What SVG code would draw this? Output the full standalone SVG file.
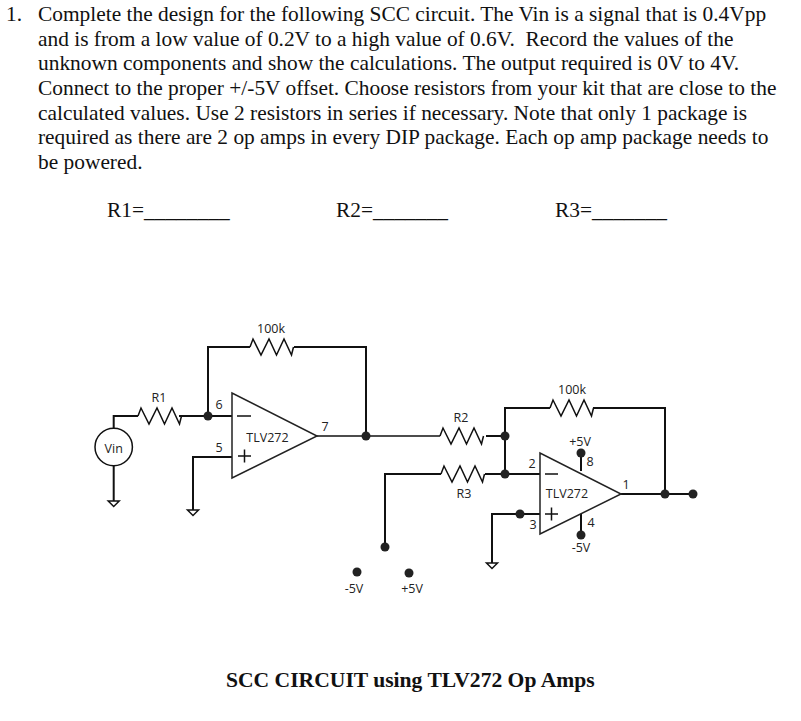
<svg xmlns="http://www.w3.org/2000/svg" width="801" height="721" viewBox="0 0 801 721">
<style>
.p{font-family:"Liberation Serif",serif;font-size:21.4px;fill:#111;white-space:pre}
.l{font-family:"Open Sans","Noto Sans",sans-serif;font-size:12.5px;fill:#222;text-anchor:middle}
.w{fill:none;stroke:#111;stroke-width:2}
.o{fill:#fff;stroke:#222;stroke-width:1.5}
.g{fill:#fff;stroke:#111;stroke-width:1.5}
.s{fill:none;stroke:#111;stroke-width:1.5}
.d{fill:#222}
</style>
<defs>
<path id="res" d="M0 0l3-8 8 16 8-16 7.500 16 7.500-16 7.500 16 2-8" class="s"/>
<path id="gnd" d="M-5.500 0h11l-5.500 5.500z" class="g"/>
</defs>
<g id="question">
<text class="p" x="6" y="21">1.</text>
<text class="p" x="38" y="21">Complete the design for the following SCC circuit. The Vin is a signal that is 0.4Vpp</text>
<text class="p" x="38" y="45.500">and is from a low value of 0.2V to a high value of 0.6V.  Record the values of the</text>
<text class="p" x="38" y="70">unknown components and show the calculations. The output required is 0V to 4V.</text>
<text class="p" x="38" y="95">Connect to the proper +/-5V offset. Choose resistors from your kit that are close to the</text>
<text class="p" x="38" y="119.500">calculated values. Use 2 resistors in series if necessary. Note that only 1 package is</text>
<text class="p" x="38" y="144">required as there are 2 op amps in every DIP package. Each op amp package needs to</text>
<text class="p" x="38" y="168.500">be powered.</text>
<text class="p" x="107" y="217">R1=________</text>
<text class="p" x="336" y="217">R2=_______</text>
<text class="p" x="555" y="217">R3=_______</text>
<text class="p" x="226" y="687" style="font-weight:bold;font-size:21.6px">SCC CIRCUIT using TLV272 Op Amps</text>
</g>
<g id="connectors">
<path class="w" d="M113.700 428V416H138M179 416H232M208 416V347H250M294 347H366V436M232 457H193V510"/>
<path class="s" d="M317 436H440"/>
<path class="w" d="M113.700 466V501"/>
<path class="w" d="M486 436H505V474M441 474H385V547M485 474H540M505 436V408H550M593 408H665V494M621 494H693M540 514H492V563"/>
<path class="w" d="M581 453V471M581 535V513"/>
</g>
<g id="vin"><circle class="g" cx="113.700" cy="447" r="18.700"/><text class="l" x="113.700" y="452.500">Vin</text><use href="#gnd" x="113.700" y="501"/></g>
<g id="gnd-5"><use href="#gnd" x="193" y="510"/></g>
<g id="gnd-3"><use href="#gnd" x="492" y="563"/></g>
<g id="r1"><use href="#res" x="138" y="416"/><text class="l" x="159" y="402">R1</text></g>
<g id="rf1"><use href="#res" x="250" y="347"/><text class="l" x="271" y="333">100k</text></g>
<g id="r2"><use href="#res" x="440" y="436"/><text class="l" x="461" y="422">R2</text></g>
<g id="r3"><use href="#res" x="441" y="474"/><text class="l" x="464" y="498">R3</text></g>
<g id="rf2"><use href="#res" x="550" y="408"/><text class="l" x="572" y="394">100k</text></g>
<g id="opamp1">
<path class="o" d="M232 393V478L317 436z"/>
<path class="s" d="M237 416h14M238 456h13M244.500 449.500v13"/>
<text class="l" x="267.500" y="442">TLV272</text>
<text class="l" x="219" y="409">6</text><text class="l" x="219" y="452">5</text><text class="l" x="325" y="431">7</text>
</g>
<g id="opamp2">
<path class="o" d="M540 453V534L621 494z"/>
<path class="s" d="M545 474h13M545 514h13M551.500 507.500v13"/>
<text class="l" x="567" y="498">TLV272</text>
<text class="l" x="532" y="468">2</text><text class="l" x="533" y="529">3</text><text class="l" x="626" y="489">1</text><text class="l" x="590" y="466">8</text><text class="l" x="591" y="527">4</text>
<text class="l" x="580" y="446">+5V</text><text class="l" x="581" y="552">-5V</text>
</g>
<g id="junctions">
<circle class="d" cx="208" cy="416" r="4.500"/><circle class="d" cx="366" cy="436" r="4.500"/>
<circle class="d" cx="505" cy="436" r="4.500"/><circle class="d" cx="505" cy="474" r="4.500"/>
<circle class="d" cx="520" cy="514" r="4.500"/><circle class="d" cx="665" cy="494" r="4.500"/>
<circle class="d" cx="693" cy="494" r="4.500"/><circle class="d" cx="385" cy="547" r="4.500"/>
<circle class="d" cx="581" cy="453" r="4.500"/><circle class="d" cx="581" cy="535" r="4.500"/>
</g>
<g id="minus5"><circle class="d" cx="357" cy="572" r="4.500"/><text class="l" x="354" y="593">-5V</text></g>
<g id="plus5"><circle class="d" cx="409" cy="573" r="4.500"/><text class="l" x="412" y="593">+5V</text></g>
</svg>
